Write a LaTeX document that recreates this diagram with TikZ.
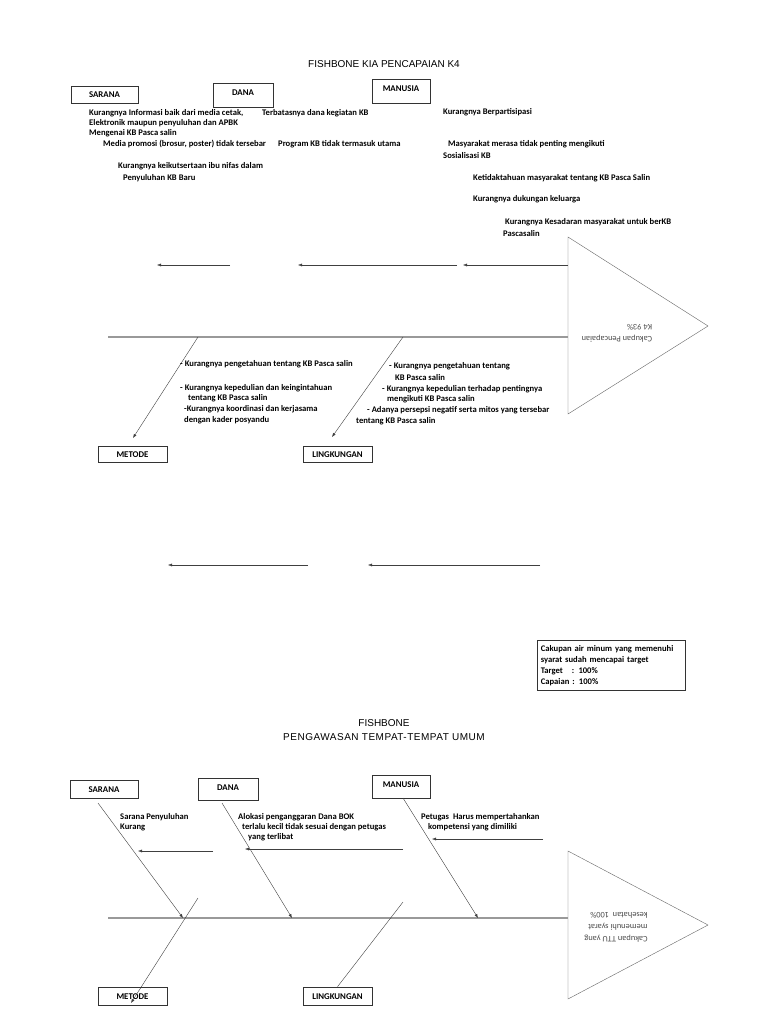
\documentclass[tikz,border=0pt]{standalone}
\usepackage{fontspec}
\setmainfont{Carlito}
\newfontfamily\headfont{Liberation Sans}
\usetikzlibrary{arrows.meta}

\begin{document}
\begin{tikzpicture}[x=1pt, y=-1pt,
    box/.style={draw=black!80, semithick, font=\fontsize{8.8}{9}\selectfont\bfseries,
        minimum height=17pt, text height=6pt, text depth=0pt},
    tallbox/.style={box, minimum height=24pt, text depth=4pt},
    note/.style={font=\fontsize{8.6}{10.5}\selectfont\bfseries, align=left, anchor=north west,
        inner sep=0pt, yshift=4pt},
    bone/.style={draw=black!75, thin, -{Latex[length=4pt,width=3pt]}},
    spine/.style={draw=black!40, line width=1.2pt},
    head/.style={draw=black!60, thin},
    goal/.style={rotate=180, font=\fontsize{8.4}{12}\selectfont, align=left, text=black!70},
    title/.style={font=\headfont\fontsize{10}{14}\selectfont, align=center},
    ]
\fill[white] (0,0) rectangle (768,1024);
\useasboundingbox (0,0) rectangle (768,1024);

% ---- fishbone KIA ----
\node[title] (title1) at (384,64) {FISHBONE KIA PENCAPAIAN K4};
\node[box, minimum width=67pt] (sarana1) at (104.5,94.5) {SARANA};
\node[tallbox, minimum width=60pt] (dana1) at (243,95) {DANA};
\node[tallbox, minimum width=58pt] (manusia1) at (401,91) {MANUSIA};

\node[note, font=\fontsize{8.6}{10}\selectfont\bfseries] (n1) at (89,113) {Kurangnya Informasi baik dari media cetak,\\
    Elektronik maupun penyuluhan dan APBK\\ Mengenai KB Pasca salin};
\node[note] (n2) at (103,144) {Media promosi (brosur, poster) tidak tersebar};
\node[note] (n3) at (262,113) {Terbatasnya dana kegiatan KB};
\node[note] (n4) at (278,144) {Program KB tidak termasuk utama};
\node[note] (n5) at (443,112) {Kurangnya Berpartisipasi};
\node[note, font=\fontsize{8.6}{12}\selectfont\bfseries] (n6) at (443,144) {\hspace*{5pt}Masyarakat merasa tidak penting mengikuti\\ Sosialisasi KB};
\node[note, font=\fontsize{8.6}{12}\selectfont\bfseries] (n7) at (118,166) {Kurangnya keikutsertaan ibu nifas dalam\\ \hspace*{5pt}Penyuluhan KB Baru};
\node[note] (n8) at (473,178) {Ketidaktahuan masyarakat tentang KB Pasca Salin};
\node[note] (n9) at (473,199) {Kurangnya dukungan keluarga};
\node[note, font=\fontsize{8.6}{12}\selectfont\bfseries] (n10) at (503,222) {\hspace*{2pt}Kurangnya Kesadaran masyarakat untuk berKB\\ Pascasalin};

% head and spine
\coordinate (h1t) at (568,237);
\coordinate (h1p) at (708,326);
\coordinate (h1b) at (568,414);
\draw[head] (h1t) -- (h1p) -- (h1b) -- cycle;
\node[goal] (goal1) at (617,333) {Cakupan Pencapaian\\K4 93\%};
\coordinate (s1) at (108,337);
\draw[spine] (s1) -- (s1 -| h1t);

\coordinate (a1s) at (230,265);
\coordinate (a1e) at (157,265);
\coordinate (a2s) at (457,265);
\coordinate (a2e) at (298,265);
\coordinate (a3e) at (463,265);
\draw[bone] (a1s) -- (a1e);
\draw[bone] (a2s) -- (a2e);
\draw[bone] (a3e -| h1t) -- (a3e);

\coordinate (m1) at (198,337);
\coordinate (m1e) at (133,438);
\coordinate (l1) at (403,337);
\coordinate (l1e) at (332,437);
\draw[bone] (m1) -- (m1e);
\draw[bone] (l1) -- (l1e);
\node[box, minimum width=69pt, minimum height=16pt] (metode1) at (132.5,454.5) {METODE};
\node[box, minimum width=69pt, minimum height=16pt] (lingkungan1) at (337.5,454.5) {LINGKUNGAN};

\node[note] (n11) at (180,364) {- Kurangnya pengetahuan tentang KB Pasca salin};
\node[note, font=\fontsize{8.6}{10.7}\selectfont\bfseries] (n12) at (180,388) {- Kurangnya kepedulian dan keingintahuan\\
    \hspace*{8pt}tentang KB Pasca salin\\ \hspace*{4pt}-Kurangnya koordinasi dan kerjasama\\
    \hspace*{4pt}dengan kader posyandu};
\node[note, font=\fontsize{8.6}{12}\selectfont\bfseries] (n13) at (389,366) {- Kurangnya pengetahuan tentang\\ \hspace*{6pt}KB Pasca salin};
\node[note, font=\fontsize{8.6}{10.7}\selectfont\bfseries] (n14) at (356,389) {\hspace*{26pt}- Kurangnya kepedulian terhadap pentingnya\\
    \hspace*{31pt}mengikuti KB Pasca salin\\ \hspace*{11pt}- Adanya persepsi negatif serta mitos yang tersebar\\
    tentang KB Pasca salin};

% ---- middle ----
\coordinate (b1s) at (308,565);
\coordinate (b1e) at (168,565);
\coordinate (b2s) at (540,565);
\coordinate (b2e) at (368,565);
\draw[bone] (b1s) -- (b1e);
\draw[bone] (b2s) -- (b2e);
\node[draw=black!80, semithick, font=\fontsize{8.6}{11}\selectfont\bfseries, align=left, anchor=north west,
    text width=141pt, inner xsep=3.5pt, inner ysep=3pt, minimum height=50pt] (air) at (537,640)
    {Cakupan air minum yang memenuhi\\ syarat sudah mencapai target\\ Target\hspace{9pt}: 100\%\\ Capaian : 100\%};

% ---- fishbone TTU ----
\node[title] (title2) at (384,730) {FISHBONE\\\addfontfeatures{LetterSpace=5}PENGAWASAN TEMPAT-TEMPAT UMUM};
\node[box, minimum width=68pt, minimum height=18pt] (sarana2) at (104,789) {SARANA};
\node[tallbox, minimum width=60pt, minimum height=22pt] (dana2) at (228,789) {DANA};
\node[tallbox, minimum width=58pt, minimum height=23pt] (manusia2) at (401,786.5) {MANUSIA};

\coordinate (h2t) at (568,851);
\coordinate (h2p) at (708,925);
\coordinate (h2b) at (568,999);
\draw[head] (h2t) -- (h2p) -- (h2b) -- cycle;
\node[goal] (goal2) at (616,927) {Cakupan TTU yang\\memenuhi syarat\\kesehatan\ \ 100\%};
\coordinate (s2) at (108,918);
\draw[spine] (s2) -- (s2 -| h2t);

\coordinate (c1s) at (98,803);
\coordinate (c1e) at (183,918);
\coordinate (c2s) at (222,803);
\coordinate (c2e) at (292,918);
\coordinate (c3s) at (403,798);
\coordinate (c3e) at (478,918);
\draw[bone] (c1s) -- (c1e);
\draw[bone] (c2s) -- (c2e);
\draw[bone] (c3s) -- (c3e);

\coordinate (d1s) at (213,851);
\coordinate (d1e) at (138,851);
\coordinate (d2s) at (403,849);
\coordinate (d2e) at (245,849);
\coordinate (d3s) at (543,839);
\coordinate (d3e) at (432,839);
\draw[bone] (d1s) -- (d1e);
\draw[bone] (d2s) -- (d2e);
\draw[bone] (d3s) -- (d3e);

\node[box, minimum width=69pt, minimum height=18pt] (metode2) at (132.5,996) {METODE};
\node[box, minimum width=69pt, minimum height=18pt] (lingkungan2) at (337.5,996) {LINGKUNGAN};
\coordinate (m2) at (198,898);
\coordinate (m2e) at (131,1003);
\coordinate (l2) at (403,902);
\draw[bone] (m2) -- (m2e);
\draw[draw=black!75, thin] (l2) -- (lingkungan2.north);

\node[note, font=\fontsize{8.6}{10}\selectfont\bfseries] (n15) at (120,817) {Sarana Penyuluhan\\Kurang};
\node[note, font=\fontsize{8.6}{10}\selectfont\bfseries] (n16) at (238,817) {Alokasi penganggaran Dana BOK\\
    \hspace*{4pt}terlalu kecil tidak sesuai dengan petugas\\ \hspace*{10pt}yang terlibat};
\node[note, font=\fontsize{8.6}{10}\selectfont\bfseries] (n17) at (421,817) {Petugas\ \ Harus mempertahankan\\ \hspace*{7pt}kompetensi yang dimiliki};
\end{tikzpicture}
\end{document}
